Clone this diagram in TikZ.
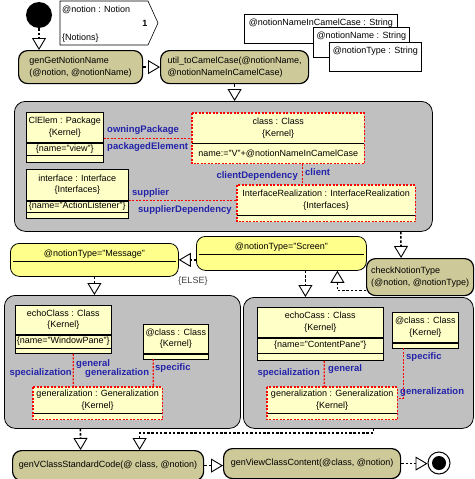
\documentclass[tikz,border=0pt]{standalone}
\usepackage{fontspec}
\setmainfont{Liberation Sans}
\usetikzlibrary{arrows.meta}
\definecolor{actfill}{RGB}{206,201,152}
\definecolor{guardfill}{RGB}{255,255,140}
\definecolor{objfill}{RGB}{255,255,200}
\definecolor{regionfill}{RGB}{192,192,192}
\definecolor{rolecol}{RGB}{35,35,170}

\begin{document}
\begin{tikzpicture}[x=1pt, y=-1pt, font=\fontsize{9}{11.5}\selectfont,
    action/.style={draw, line width=1.2pt, fill=actfill, rounded corners=9pt, anchor=north west, align=left, inner sep=2pt},
    guard/.style={draw, line width=0.8pt, fill=guardfill, rounded corners=9pt, anchor=north west, text depth=14pt},
    region/.style={draw, line width=0.8pt, fill=regionfill, rounded corners=11pt, anchor=north west},
    obj/.style={draw, line width=0.6pt, fill=objfill, align=center, inner sep=1pt},
    part/.style={fill=objfill, align=center, inner sep=1pt},
    var/.style={draw, line width=0.6pt, fill=white, anchor=north west, align=left, inner sep=2pt, text height=9pt, text depth=16pt},
    flow/.style={line width=1.6pt, dash pattern=on 2.5pt off 1.8pt, -{Triangle[fill=white, width=14pt, length=12pt, line width=0.9pt]}},
    assoc/.style={red, line width=1.2pt, dash pattern=on 2pt off 1.5pt},
    sep/.style={line width=1.2pt},
    role/.style={font=\fontsize{9.5}{11}\selectfont\bfseries, text=rolecol, inner sep=0pt}]
    \useasboundingbox (0,0) rectangle (474,479);

    \node[circle, fill=black, minimum size=26pt, inner sep=0pt] (start) at (39,15) {};
    \draw[line width=0.6pt, fill=white] (60,1) -- (148,1) -- (158,23) -- (148,45) -- (60,45) -- cycle;
    \node[anchor=west, inner sep=0pt] (notionvar) at (62,10) {@notion : Notion};
    \node[inner sep=0pt] (notionmult) at (145,23) {\bfseries 1};
    \node[anchor=west, inner sep=0pt] (notionpkg) at (62,38) {\{Notions\}};

    \node[var, minimum width=153pt, minimum height=29pt] (camelvar) at (244,14) {@notionNameInCamelCase : String};
    \node[var, minimum width=96pt, minimum height=30pt] (namevar) at (313,27) {@notionName : String};
    \node[var, minimum width=92pt, minimum height=29pt] (typevar) at (329,42) {@notionType : String};

    \node[action, minimum width=124pt, minimum height=33pt] (getname) at (18,50) {genGetNotionName\\(@notion, @notionName)};
    \node[action, minimum width=148pt, minimum height=33pt] (util) at (160,50) {util\_toCamelCase(@notionName,\\@notionNameInCamelCase)};

    \node[region, minimum width=418pt, minimum height=130pt] (box1) at (14,101) {};
    \node[obj, anchor=north west, minimum width=77pt, minimum height=30pt] (clelem) at (26,112) {ClElem : Package\\\{Kernel\}};
    \node[obj, anchor=north, minimum width=77pt, minimum height=12pt] (clelemname) at (clelem.south) {\{name="view"\}};
    \node[obj, anchor=north, minimum width=77pt, minimum height=7pt] (clelemops) at (clelemname.south) {};
    \node[obj, anchor=north west, minimum width=102pt, minimum height=31pt] (iface) at (26,169) {interface : Interface\\\{Interfaces\}};
    \node[obj, anchor=north, minimum width=102pt, minimum height=11pt] (ifacename) at (iface.south) {\{name="ActionListener"\}};
    \node[obj, anchor=north, minimum width=102pt, minimum height=6pt] (ifaceops) at (ifacename.south) {};
    \node[part, anchor=north west, minimum width=172pt, minimum height=30pt] (cls) at (192,113) {class : Class\\\{Kernel\}};
    \node[part, anchor=north, minimum width=172pt, minimum height=20pt] (clsattr) at (cls.south) {name:="V"+@notionNameInCamelCase};
    \draw[sep] (cls.south west) -- (cls.south east);
    \draw[assoc] (cls.north west) rectangle (clsattr.south east);
    \node[part, anchor=north west, minimum width=178pt, minimum height=30pt] (ireal) at (237,185) {InterfaceRealization : InterfaceRealization\\\{Interfaces\}};
    \node[part, anchor=north, minimum width=178pt, minimum height=6pt] (irealops) at (ireal.south) {};
    \draw[sep] (ireal.south west) -- (ireal.south east);
    \draw[assoc] (ireal.north west) rectangle (irealops.south east);
    \coordinate (clsin) at ([yshift=-10pt]cls.west);
    \draw[assoc] (clelem.east |- clsin) -- (clsin);
    \draw[assoc] ([xshift=24pt]clsattr.south) -- ([xshift=-24pt]ireal.north);
    \draw[assoc] (iface.east |- ireal.west) -- (ireal.west);
    \node[role, anchor=west] (ownpkg) at (107,130) {owningPackage};
    \node[role, anchor=west] (pkgel) at (107,147) {packagedElement};
    \node[role, anchor=east] (clidep) at (298,176) {clientDependency};
    \node[role, anchor=west] (cli) at (305,172) {client};
    \node[role, anchor=west] (supp) at (132,193) {supplier};
    \node[role, anchor=west] (suppdep) at (138,210) {supplierDependency};

    \node[guard, minimum width=170pt, minimum height=34pt] (screen) at (196,236) {@notionType="Screen"};
    \draw[line width=0.8pt] ([xshift=3pt,yshift=-1pt]screen.west) -- ([xshift=-3pt,yshift=-1pt]screen.east);
    \node[guard, minimum width=168pt, minimum height=33pt] (message) at (10,243) {@notionType="Message"};
    \draw[line width=0.8pt] ([xshift=3pt,yshift=-1.5pt]message.west) -- ([xshift=-3pt,yshift=-1.5pt]message.east);
    \node[action, minimum width=107pt, minimum height=37pt] (check) at (366,258) {checkNotionType\\(@notion, @notionType)};
    \node[text=black!75, inner sep=0pt] (elselbl) at (193,281) {\{ELSE\}};

    \node[region, minimum width=236pt, minimum height=133pt] (box2) at (4,295) {};
    \node[obj, anchor=north west, minimum width=96pt, minimum height=29pt] (echo1) at (15,305) {echoClass : Class\\\{Kernel\}};
    \node[obj, anchor=north, minimum width=96pt, minimum height=13pt] (echo1name) at (echo1.south) {\{name="WindowPane"\}};
    \node[obj, anchor=north, minimum width=96pt, minimum height=5pt] (echo1ops) at (echo1name.south) {};
    \node[obj, anchor=north west, minimum width=65pt, minimum height=29pt] (at1) at (143,324) {@class : Class\\\{Kernel\}};
    \node[obj, anchor=north, minimum width=65pt, minimum height=5pt] (at1ops) at (at1.south) {};
    \node[part, anchor=north west, minimum width=129pt, minimum height=26pt] (gen1) at (33,387) {generalization : Generalization\\\{Kernel\}};
    \node[part, anchor=north, minimum width=129pt, minimum height=6pt] (gen1ops) at (gen1.south) {};
    \draw[sep] (gen1.south west) -- (gen1.south east);
    \draw[assoc] (gen1.north west) rectangle (gen1ops.south east);
    \draw[assoc] ([xshift=10pt]echo1ops.south) -- ([xshift=-24.5pt]gen1.north);
    \draw[assoc] ([xshift=-22.5pt]at1ops.south) -- ([xshift=55.5pt]gen1.north);
    \node[role, anchor=west] (gen1general) at (76,364) {general};
    \node[role, anchor=east] (gen1spec) at (72,373) {specialization};
    \node[role, anchor=west] (gen1gen) at (85,373) {generalization};
    \node[role, anchor=west] (gen1specific) at (155,368) {specific};

    \node[region, minimum width=230pt, minimum height=131pt] (box3) at (243,297) {};
    \node[obj, anchor=north west, minimum width=126pt, minimum height=30pt] (echo2) at (257,307) {echoCass : Class\\\{Kernel\}};
    \node[obj, anchor=north, minimum width=126pt, minimum height=15pt] (echo2name) at (echo2.south) {\{name="ContentPane"\}};
    \node[obj, anchor=north, minimum width=126pt, minimum height=7pt] (echo2ops) at (echo2name.south) {};
    \node[obj, anchor=north west, minimum width=66pt, minimum height=30pt] (at2) at (392,312) {@class : Class\\\{Kernel\}};
    \node[obj, anchor=north, minimum width=66pt, minimum height=5pt] (at2ops) at (at2.south) {};
    \node[part, anchor=north west, minimum width=130pt, minimum height=26pt] (gen2) at (267,387) {generalization : Generalization\\\{Kernel\}};
    \node[part, anchor=north, minimum width=130pt, minimum height=6pt] (gen2ops) at (gen2.south) {};
    \draw[sep] (gen2.south west) -- (gen2.south east);
    \draw[assoc] (gen2.north west) rectangle (gen2ops.south east);
    \coordinate (gen2in) at ([yshift=2pt]gen2.east);
    \draw[assoc] ([xshift=4pt]echo2ops.south) -- ([xshift=-8pt]gen2.north);
    \draw[assoc] ([xshift=-22pt]at2ops.south) |- (gen2in);
    \node[role, anchor=west] (gen2general) at (328,369) {general};
    \node[role, anchor=east] (gen2spec) at (320,373) {specialization};
    \node[role, anchor=west] (gen2specific) at (406,357) {specific};
    \node[role, anchor=west] (gen2gen) at (400,392) {generalization};

    \node[action, minimum width=191pt, minimum height=30pt] (genv) at (12,450) {genVClassStandardCode(@ class, @notion)};
    \node[action, minimum width=177pt, minimum height=30pt] (genview) at (223,448) {genViewClassContent(@class, @notion)};
    \node[circle, draw, line width=1pt, fill=white, minimum size=22pt, inner sep=0pt] (stop) at (439,463) {};
    \node[circle, fill=black, minimum size=14pt, inner sep=0pt] (stopdot) at (stop) {};

    \coordinate (screenout) at ([xshift=24pt]screen.south);
    \draw[flow] (start) -- (start |- getname.north);
    \draw[flow] (getname) -- (util);
    \draw[flow] (util) -- (util |- box1.north);
    \draw[flow] ([xshift=-32pt]box1.south east) -- ([xshift=-19pt]check.north);
    \draw[flow] ([yshift=-13.5pt]check.west) -| ([xshift=56pt]screen.south);
    \draw[flow] (message.east -| screen.west) -- (message.east);
    \draw[flow] (message) -- (message |- box2.north);
    \draw[flow] (screenout) -- (screenout |- box3.north);
    \draw[flow] ([xshift=-42pt]box2.south) -- ([xshift=-27.5pt]genv.north);
    \draw[flow] ([xshift=15pt]box3.south) -- ++(0,4) -| ([xshift=31.5pt]genv.north);
    \draw[flow] (genv.east) -- (genv.east -| genview.west);
    \draw[flow] (genview.east) -- (genview.east -| stop.west);
\end{tikzpicture}
\end{document}
